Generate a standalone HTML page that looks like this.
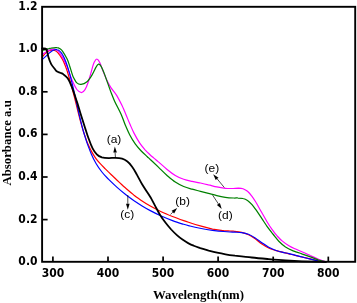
<!DOCTYPE html>
<html><head><meta charset="utf-8"><title>Absorbance</title>
<style>html,body{margin:0;padding:0;background:#fff;overflow:hidden}body{width:357px;height:303px;position:relative}</style></head>
<body>
<svg width="357" height="303" viewBox="0 0 357 303" style="position:absolute;left:0;top:0">
<rect width="357" height="303" fill="#fff"/>
<path d="M42.0,57.1C42.7,56.4 44.7,54.0 46.0,52.9C47.3,51.8 48.6,50.9 50.0,50.5C51.4,50.1 53.3,50.1 54.6,50.5C55.9,50.9 56.7,51.3 58.0,52.8C59.3,54.3 61.3,57.2 62.5,59.4C63.7,61.5 64.4,63.3 65.2,65.5C66.0,67.6 66.4,68.4 67.5,72.0C68.6,75.7 70.6,82.5 71.9,87.3C73.2,92.2 74.2,96.5 75.4,101.1C76.6,105.7 77.8,110.9 78.8,114.9C79.8,118.8 80.6,121.6 81.4,124.7C82.2,127.7 83.0,130.3 83.9,133.0C84.8,135.6 85.8,138.4 86.6,140.6C87.4,142.8 88.1,144.4 89.0,146.3C89.9,148.3 90.8,150.1 91.9,152.1C93.0,154.1 94.5,156.4 95.8,158.3C97.1,160.2 98.4,161.7 100.0,163.4C101.6,165.2 103.9,167.4 105.3,168.8C106.7,170.2 107.0,170.5 108.4,171.9C109.8,173.2 112.3,175.7 113.7,177.0C115.1,178.4 115.4,178.7 116.8,180.0C118.2,181.3 120.5,183.5 121.9,184.8C123.3,186.1 123.3,186.1 125.3,187.8C127.3,189.5 130.9,192.7 133.7,194.9C136.5,197.0 139.3,199.1 142.1,200.9C144.9,202.8 147.1,204.2 150.3,206.0C153.5,207.8 157.5,209.9 161.2,211.7C164.9,213.4 168.8,215.0 172.5,216.5C176.2,218.0 180.8,219.6 183.7,220.6C186.6,221.7 187.1,221.8 190.0,222.7C192.9,223.7 197.4,225.2 201.2,226.2C204.9,227.3 208.8,228.3 212.5,229.1C216.2,229.8 220.8,230.3 223.7,230.7C226.6,231.0 228.3,230.9 230.0,231.0C231.7,231.1 231.8,230.9 233.7,231.2C235.6,231.4 239.2,231.7 241.7,232.3C244.2,232.9 246.2,233.7 248.5,234.8C250.8,235.8 253.0,237.3 255.2,238.8C257.4,240.4 259.6,242.5 261.9,244.1C264.1,245.6 266.4,246.9 268.7,248.0C270.9,249.1 273.2,249.7 275.4,250.4C277.6,251.1 279.9,251.6 282.1,252.2C284.4,252.8 286.8,253.3 288.9,253.9C291.0,254.4 292.9,254.8 295.0,255.4C297.1,255.9 299.2,256.4 301.8,257.0C304.4,257.6 307.5,258.3 310.3,258.9C313.1,259.6 316.2,260.2 318.7,260.8C321.2,261.3 324.4,261.9 325.5,262.1" fill="none" stroke="#ff0000" stroke-width="1.2" stroke-linejoin="round" stroke-linecap="round"/>
<path d="M42.0,54.6C42.7,54.2 44.7,52.9 46.0,52.1C47.3,51.3 48.6,50.3 50.0,49.9C51.4,49.4 53.3,49.0 54.6,49.2C55.9,49.4 56.8,50.0 58.0,51.2C59.2,52.4 60.5,54.1 62.0,56.6C63.5,59.1 65.8,63.9 66.8,66.1C67.8,68.4 67.4,68.0 68.3,70.2C69.2,72.5 70.5,76.5 71.9,79.7C73.3,82.9 75.3,87.3 76.9,89.5C78.5,91.6 80.2,92.6 81.5,92.6C82.8,92.6 83.9,91.3 85.0,89.6C86.1,88.0 87.1,85.4 88.0,82.8C88.9,80.2 89.8,76.9 90.6,74.2C91.4,71.6 92.0,68.9 92.6,66.9C93.2,64.8 93.6,63.3 94.3,62.0C95.0,60.7 95.9,59.0 96.8,59.0C97.7,59.0 98.4,60.0 99.4,61.9C100.4,63.7 101.5,67.1 102.7,70.2C104.0,73.2 105.5,77.4 106.9,80.3C108.3,83.2 109.2,85.0 110.9,87.6C112.6,90.1 115.0,92.7 116.8,95.6C118.6,98.6 120.2,101.7 121.9,105.3C123.6,108.8 125.6,113.8 126.9,116.9C128.2,120.1 128.8,121.6 130.0,124.3C131.2,127.0 132.4,130.1 134.0,133.1C135.6,136.2 137.7,140.0 139.6,142.8C141.5,145.7 143.6,148.1 145.3,150.1C147.0,152.0 148.6,153.4 150.0,154.7C151.4,156.0 152.5,156.9 153.9,158.1C155.3,159.3 156.2,160.0 158.4,161.9C160.6,163.7 164.0,166.9 166.8,169.2C169.6,171.5 172.5,173.8 175.3,175.5C178.1,177.2 180.9,178.4 183.7,179.3C186.5,180.3 189.3,180.8 192.1,181.4C194.9,182.1 197.8,182.5 200.5,183.0C203.2,183.6 205.7,184.2 208.4,184.9C211.1,185.5 214.0,186.3 216.8,186.9C219.6,187.5 222.8,188.0 225.3,188.3C227.8,188.6 229.5,188.5 231.7,188.5C233.9,188.5 236.6,188.1 238.5,188.1C240.4,188.2 241.5,188.3 243.0,188.8C244.5,189.4 246.0,190.1 247.5,191.3C249.0,192.6 250.5,194.4 252.0,196.3C253.5,198.3 254.8,200.5 256.5,203.2C258.1,206.0 260.1,209.7 261.9,212.8C263.6,215.8 265.3,218.9 267.0,221.7C268.7,224.5 270.3,227.0 272.0,229.4C273.7,231.8 275.4,234.0 277.1,235.9C278.8,237.8 280.1,239.3 282.1,240.9C284.1,242.6 286.8,244.5 288.9,245.8C291.0,247.1 292.9,247.9 295.0,248.8C297.1,249.8 299.2,250.6 301.8,251.7C304.4,252.8 307.5,254.3 310.3,255.6C313.1,256.8 316.1,258.2 318.7,259.3C321.3,260.3 324.9,261.5 326.2,262.0" fill="none" stroke="#ff00ff" stroke-width="1.2" stroke-linejoin="round" stroke-linecap="round"/>
<path d="M42.0,59.7C42.7,59.1 44.7,57.3 46.0,56.1C47.3,54.9 48.7,53.5 50.0,52.4C51.3,51.4 52.9,50.5 54.0,50.0C55.1,49.5 56.0,49.5 56.9,49.7C57.8,49.8 58.6,50.1 59.5,50.9C60.4,51.7 61.4,52.7 62.5,54.6C63.6,56.4 64.9,59.3 66.0,62.3C67.1,65.2 68.1,68.4 69.2,72.2C70.3,76.0 71.4,80.3 72.5,84.9C73.6,89.5 74.8,94.9 75.9,99.9C77.0,104.8 78.2,110.4 79.2,114.6C80.2,118.8 80.9,121.8 81.7,124.9C82.5,128.0 83.1,130.4 84.0,133.3C84.9,136.3 85.7,139.1 86.9,142.6C88.2,146.1 90.0,150.9 91.5,154.5C93.0,158.0 94.5,160.8 96.2,163.7C97.9,166.6 99.9,169.4 101.9,172.0C103.9,174.6 105.9,176.6 108.4,179.2C110.9,181.7 114.0,184.6 116.8,187.1C119.6,189.6 122.5,192.0 125.3,194.2C128.1,196.5 130.9,198.5 133.7,200.5C136.5,202.4 139.3,204.2 142.1,205.9C144.9,207.6 147.1,208.9 150.3,210.6C153.5,212.3 157.5,214.3 161.2,216.0C164.9,217.6 168.8,219.2 172.5,220.6C176.2,222.0 180.8,223.4 183.7,224.3C186.6,225.2 187.1,225.3 190.0,226.0C192.9,226.7 197.4,227.7 201.2,228.5C204.9,229.2 208.8,229.8 212.5,230.3C216.2,230.8 220.8,231.3 223.7,231.5C226.6,231.8 228.1,231.9 230.0,232.0C231.9,232.1 233.1,232.1 235.0,232.2C236.9,232.3 239.4,232.3 241.7,232.6C243.9,232.9 246.2,233.3 248.5,234.2C250.8,235.1 253.0,236.5 255.2,237.9C257.4,239.3 259.6,241.1 261.9,242.7C264.1,244.2 266.4,245.9 268.7,247.2C270.9,248.4 273.2,249.4 275.4,250.2C277.6,251.0 279.9,251.6 282.1,252.1C284.4,252.7 286.8,253.1 288.9,253.6C291.0,254.1 292.9,254.6 295.0,255.1C297.1,255.7 299.2,256.2 301.8,256.9C304.4,257.6 307.5,258.4 310.3,259.1C313.1,259.8 316.2,260.5 318.7,261.0C321.1,261.4 323.9,261.8 325.0,262.0" fill="none" stroke="#0000ff" stroke-width="1.2" stroke-linejoin="round" stroke-linecap="round"/>
<path d="M42.0,50.0C42.6,50.0 44.1,50.1 45.6,49.7C47.1,49.4 49.3,48.4 51.2,48.1C53.1,47.7 55.4,47.4 56.9,47.6C58.4,47.7 59.1,48.2 60.0,48.8C60.9,49.4 61.3,49.5 62.5,51.1C63.7,52.8 65.8,56.5 67.0,58.8C68.2,61.2 68.7,63.0 69.4,65.2C70.2,67.4 70.9,70.1 71.5,71.9C72.1,73.8 72.1,74.5 73.0,76.4C73.9,78.2 75.6,81.5 76.9,82.9C78.2,84.2 79.4,84.6 81.1,84.4C82.8,84.2 85.4,83.0 87.0,81.7C88.6,80.5 89.8,78.5 90.9,76.9C92.0,75.3 92.8,73.7 93.6,72.0C94.4,70.4 95.2,68.4 96.0,67.1C96.8,65.7 97.7,64.3 98.5,64.1C99.3,64.0 100.0,64.4 101.0,66.1C102.0,67.7 103.3,71.0 104.4,73.9C105.5,76.8 106.7,80.3 107.8,83.4C108.9,86.6 110.0,89.7 111.1,92.6C112.2,95.5 112.8,97.1 114.5,100.9C116.2,104.7 119.8,111.2 121.6,115.4C123.4,119.5 124.2,122.5 125.6,125.8C127.0,129.1 128.2,132.0 129.8,135.0C131.4,138.1 133.5,141.5 135.4,144.1C137.3,146.7 139.0,148.6 141.0,150.7C143.0,152.8 145.8,155.3 147.3,156.7C148.9,158.2 148.5,157.8 150.3,159.5C152.2,161.2 155.7,164.5 158.4,167.1C161.2,169.8 164.0,172.7 166.8,175.2C169.6,177.6 172.5,180.2 175.3,182.0C178.1,183.9 180.9,185.3 183.7,186.5C186.5,187.7 189.3,188.4 192.1,189.2C194.9,190.0 197.8,190.6 200.5,191.3C203.2,192.0 205.7,192.7 208.4,193.4C211.1,194.1 214.0,195.0 216.8,195.6C219.6,196.3 222.5,196.9 225.3,197.3C228.1,197.7 231.6,197.9 233.7,198.0C235.8,198.1 236.4,197.9 238.0,198.0C239.6,198.0 241.4,198.0 243.0,198.5C244.6,198.9 246.0,199.5 247.5,200.5C249.0,201.5 250.4,202.9 252.0,204.7C253.6,206.5 255.2,208.8 256.9,211.1C258.5,213.4 260.2,216.1 261.9,218.7C263.6,221.2 265.3,223.9 267.0,226.3C268.7,228.6 270.7,231.2 272.0,232.9C273.3,234.5 273.5,234.7 274.6,236.1C275.7,237.5 277.0,239.4 278.8,241.2C280.6,243.0 283.0,245.3 285.5,247.0C288.0,248.6 291.3,250.0 294.0,251.2C296.7,252.3 299.1,252.8 301.8,253.8C304.5,254.7 307.5,255.9 310.3,256.9C313.1,257.9 316.1,259.1 318.7,260.0C321.3,260.8 324.8,261.6 326.0,261.9" fill="none" stroke="#008000" stroke-width="1.25" stroke-linejoin="round" stroke-linecap="round"/>
<path d="M42.0,48.5C42.6,48.5 44.7,48.2 45.5,48.6C46.3,49.0 46.5,49.6 47.0,51.0C47.5,52.4 47.7,54.7 48.4,56.9C49.1,59.1 50.2,62.2 51.2,64.2C52.2,66.2 53.7,67.5 54.6,68.7C55.5,69.9 55.8,70.5 56.7,71.2C57.6,71.9 59.1,72.3 60.2,72.8C61.3,73.3 62.2,73.4 63.5,74.4C64.8,75.3 66.3,76.2 67.7,78.3C69.1,80.4 70.4,83.2 71.9,87.1C73.4,90.9 75.4,97.1 76.8,101.3C78.2,105.5 78.8,107.9 80.2,112.4C81.6,116.8 83.7,123.5 85.1,127.9C86.5,132.3 87.5,135.6 88.8,139.0C90.0,142.4 91.3,145.7 92.6,148.3C93.9,150.8 95.2,152.8 96.8,154.3C98.3,155.9 99.9,156.7 101.9,157.4C103.9,158.0 106.3,158.1 108.6,158.1C110.8,158.2 113.2,157.7 115.4,157.8C117.7,157.9 120.1,158.1 122.1,158.6C124.0,159.2 125.4,159.9 127.1,161.3C128.8,162.6 130.4,164.4 132.1,166.7C133.8,168.9 135.3,171.9 137.0,174.9C138.7,177.8 140.4,181.3 142.1,184.2C143.8,187.0 145.6,189.7 147.1,192.0C148.6,194.2 149.5,195.6 150.8,197.8C152.1,200.1 153.4,202.8 155.0,205.6C156.6,208.4 158.3,212.1 160.1,214.9C161.9,217.8 163.8,220.4 165.6,222.8C167.4,225.2 169.3,227.4 171.2,229.5C173.1,231.5 175.0,233.5 176.9,235.2C178.8,236.9 180.6,238.3 182.5,239.6C184.4,240.9 186.2,242.1 188.1,243.1C190.0,244.1 191.7,244.9 193.7,245.7C195.7,246.6 197.8,247.3 200.3,248.2C202.8,249.0 205.9,249.9 208.7,250.7C211.5,251.4 214.3,252.1 217.1,252.7C219.9,253.3 222.5,253.8 225.5,254.3C228.5,254.8 230.6,255.1 235.0,255.7C239.4,256.2 246.2,257.0 251.8,257.5C257.4,258.1 263.1,258.6 268.7,259.1C274.3,259.6 280.0,260.1 285.5,260.4C291.0,260.8 295.1,261.1 301.8,261.3C308.6,261.5 322.0,261.7 326.0,261.8" fill="none" stroke="#000" stroke-width="1.8" stroke-linejoin="round" stroke-linecap="round"/>
<rect x="42.1" y="6.8" width="313.09999999999997" height="255.0" fill="none" stroke="#000" stroke-width="1.9"/>
<line x1="52.9" y1="261.8" x2="52.9" y2="256.6" stroke="#000" stroke-width="1.7"/>
<line x1="108.0" y1="261.8" x2="108.0" y2="256.6" stroke="#000" stroke-width="1.7"/>
<line x1="163.1" y1="261.8" x2="163.1" y2="256.6" stroke="#000" stroke-width="1.7"/>
<line x1="218.1" y1="261.8" x2="218.1" y2="256.6" stroke="#000" stroke-width="1.7"/>
<line x1="273.2" y1="261.8" x2="273.2" y2="256.6" stroke="#000" stroke-width="1.7"/>
<line x1="328.3" y1="261.8" x2="328.3" y2="256.6" stroke="#000" stroke-width="1.7"/>
<line x1="42.1" y1="219.6" x2="47.6" y2="219.6" stroke="#000" stroke-width="1.7"/>
<line x1="42.1" y1="177.0" x2="47.6" y2="177.0" stroke="#000" stroke-width="1.7"/>
<line x1="42.1" y1="134.4" x2="47.6" y2="134.4" stroke="#000" stroke-width="1.7"/>
<line x1="42.1" y1="91.8" x2="47.6" y2="91.8" stroke="#000" stroke-width="1.7"/>
<line x1="42.1" y1="49.2" x2="47.6" y2="49.2" stroke="#000" stroke-width="1.7"/>
<g font-family="'DejaVu Sans', 'Liberation Sans', sans-serif" font-weight="bold" font-size="12px" fill="#000">
<text transform="translate(52.9,277.4) scale(0.9,1)" text-anchor="middle">300</text>
<text transform="translate(108.0,277.4) scale(0.9,1)" text-anchor="middle">400</text>
<text transform="translate(163.1,277.4) scale(0.9,1)" text-anchor="middle">500</text>
<text transform="translate(218.1,277.4) scale(0.9,1)" text-anchor="middle">600</text>
<text transform="translate(273.2,277.4) scale(0.9,1)" text-anchor="middle">700</text>
<text transform="translate(328.3,277.4) scale(0.9,1)" text-anchor="middle">800</text>
<text transform="translate(37.5,265.2) scale(0.9,1)" text-anchor="end">0.0</text>
<text transform="translate(37.5,222.6) scale(0.9,1)" text-anchor="end">0.2</text>
<text transform="translate(37.5,180.0) scale(0.9,1)" text-anchor="end">0.4</text>
<text transform="translate(37.5,137.4) scale(0.9,1)" text-anchor="end">0.6</text>
<text transform="translate(37.5,94.8) scale(0.9,1)" text-anchor="end">0.8</text>
<text transform="translate(37.5,52.2) scale(0.9,1)" text-anchor="end">1.0</text>
<text transform="translate(37.5,9.6) scale(0.9,1)" text-anchor="end">1.2</text>
</g>
<text x="198.5" y="298.7" text-anchor="middle" font-family="'Liberation Serif', serif" font-weight="bold" font-size="12.8px">Wavelength(nm)</text>
<text transform="translate(11.0,142.9) rotate(-90)" text-anchor="middle" font-family="'Liberation Serif', serif" font-weight="bold" font-size="12.8px">Absorbance a.u</text>
<g font-family="'Liberation Sans', sans-serif" font-size="12px" fill="#000" text-anchor="middle">
<text transform="translate(114,142.6) scale(1,0.94)">(a)</text>
<text transform="translate(182.6,205.4) scale(1,0.94)">(b)</text>
<text transform="translate(127.3,218.2) scale(1,0.94)">(c)</text>
<text transform="translate(225.3,219.4) scale(1,0.94)">(d)</text>
<text transform="translate(211.8,172.2) scale(1,0.94)">(e)</text>
</g>
<line x1="115.4" y1="157" x2="115.1" y2="152.5" stroke="#000" stroke-width="0.7"/><polygon points="114.8,146.5 116.9,152.4 113.3,152.6" fill="#000"/>
<line x1="170.5" y1="214.4" x2="172.9" y2="212.1" stroke="#000" stroke-width="0.7"/><polygon points="177.2,207.9 174.1,213.4 171.6,210.8" fill="#000"/>
<line x1="127.8" y1="195.1" x2="127.8" y2="203.8" stroke="#000" stroke-width="0.7"/><polygon points="127.8,209.8 126.0,203.8 129.6,203.8" fill="#000"/>
<line x1="212.6" y1="195.1" x2="218.4" y2="203.9" stroke="#000" stroke-width="0.7"/><polygon points="221.7,208.9 216.9,204.9 219.9,202.9" fill="#000"/>
<line x1="224.3" y1="187.5" x2="217.1" y2="178.8" stroke="#000" stroke-width="0.7"/><polygon points="213.2,174.2 218.5,177.7 215.7,180.0" fill="#000"/>
</svg>
</body></html>
